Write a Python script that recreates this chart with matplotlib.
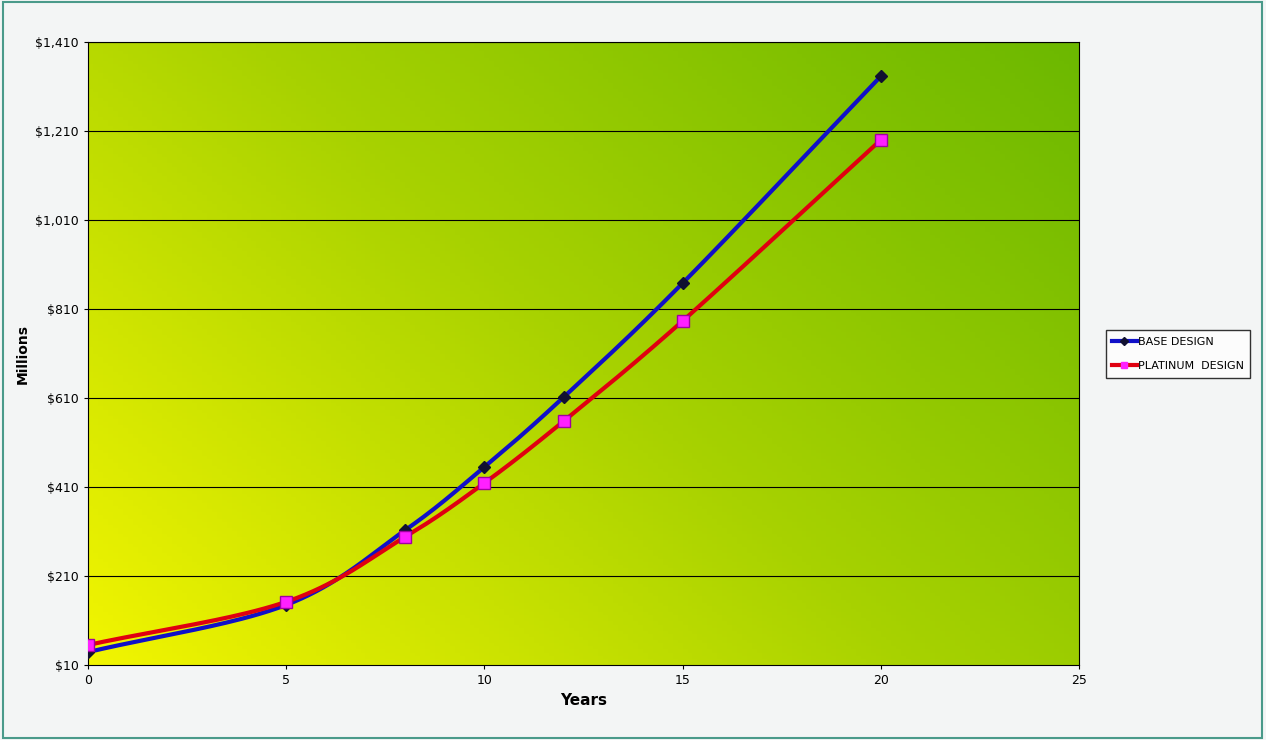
import numpy as np
import matplotlib
matplotlib.use("Agg")
import matplotlib.pyplot as plt
from matplotlib.colors import LinearSegmentedColormap
from matplotlib.patches import Rectangle

years = [0, 5, 8, 10, 12, 15, 20]
base_design = [39, 145, 313, 455, 612, 868, 1333]
platinum_design = [55, 152, 298, 419, 558, 783, 1190]
yticks = [10, 210, 410, 610, 810, 1010, 1210, 1410]
ytick_labels = ["$10", "$210", "$410", "$610", "$810", "$1,010", "$1,210", "$1,410"]
xticks = [0, 5, 10, 15, 20, 25]

def smooth(x, y, n=40):
    x = np.asarray(x, float); y = np.asarray(y, float)
    px = np.concatenate([[2*x[0]-x[1]], x, [2*x[-1]-x[-2]]])
    py = np.concatenate([[2*y[0]-y[1]], y, [2*y[-1]-y[-2]]])
    ox, oy = [], []
    for i in range(1, len(px)-2):
        t = np.linspace(0, 1, n)
        for P, o in ((px, ox), (py, oy)):
            p0, p1, p2, p3 = P[i-1], P[i], P[i+1], P[i+2]
            o.extend(0.5*((2*p1) + (-p0+p2)*t + (2*p0-5*p1+4*p2-p3)*t**2 + (-p0+3*p1-3*p2+p3)*t**3))
    return ox, oy

fig = plt.figure(figsize=(12.66, 7.40), dpi=100)
fig.patch.set_facecolor("#f3f5f5")
fig.patches.append(Rectangle((0.002, 0.003), 0.995, 0.994, transform=fig.transFigure,
                             fill=False, edgecolor="#4a9a8a", lw=1.5))
ax = fig.add_axes([88/1266, 1-665/740, (1079-88)/1266, (665-42)/740])

cmap = LinearSegmentedColormap.from_list("g", ["#f2f500", "#a8d200", "#6cb800"])
gx, gy = np.meshgrid(np.linspace(0, 1, 200), np.linspace(0, 1, 200))
grad = (gx*0.6 + gy*0.4)
ax.imshow(grad, cmap=cmap, extent=[0, 1, 0, 1], transform=ax.transAxes,
          origin="lower", aspect="auto", zorder=0)

ax.set_xlim(0, 25); ax.set_ylim(10, 1410)
ax.set_yticks(yticks); ax.set_yticklabels(ytick_labels)
ax.set_xticks(xticks)
ax.tick_params(labelsize=9, length=3)
for y in yticks[1:]:
    ax.axhline(y, color="black", lw=0.8, zorder=1)
for s in ax.spines.values():
    s.set_linewidth(0.8)

bx, by = smooth(years, base_design)
ax.plot(bx, by, color="#1010c8", lw=3, zorder=3)
ax.plot(years, base_design, ls="none", marker="D", color="#101030", ms=6, zorder=4)
l1, = ax.plot([], [], color="#1010c8", lw=3, marker="D", mfc="#101030", mec="#101030", ms=4)
pxs, pys = smooth(years, platinum_design)
ax.plot(pxs, pys, color="#e00010", lw=3, zorder=3)
ax.plot(years, platinum_design, ls="none", marker="s", color="#ff20ff", mec="#a000a0", ms=8, zorder=5)
l2, = ax.plot([], [], color="#e00010", lw=3, marker="s", mfc="#ff20ff", mec="#ff20ff", ms=5)

ax.set_xlabel("Years", fontsize=11, fontweight="bold")
ax.set_ylabel("Millions", fontsize=10, fontweight="bold")
fig.legend([l1, l2], ["BASE DESIGN", "PLATINUM  DESIGN"], loc="center left",
           bbox_to_anchor=(1100/1266, 1-354/740), fontsize=8, frameon=True,
           fancybox=False, edgecolor="black", handlelength=2.2, labelspacing=1.3,
           borderpad=0.6, handletextpad=0.1, facecolor="white")
fig.savefig("out.png", dpi=100, facecolor=fig.get_facecolor())
